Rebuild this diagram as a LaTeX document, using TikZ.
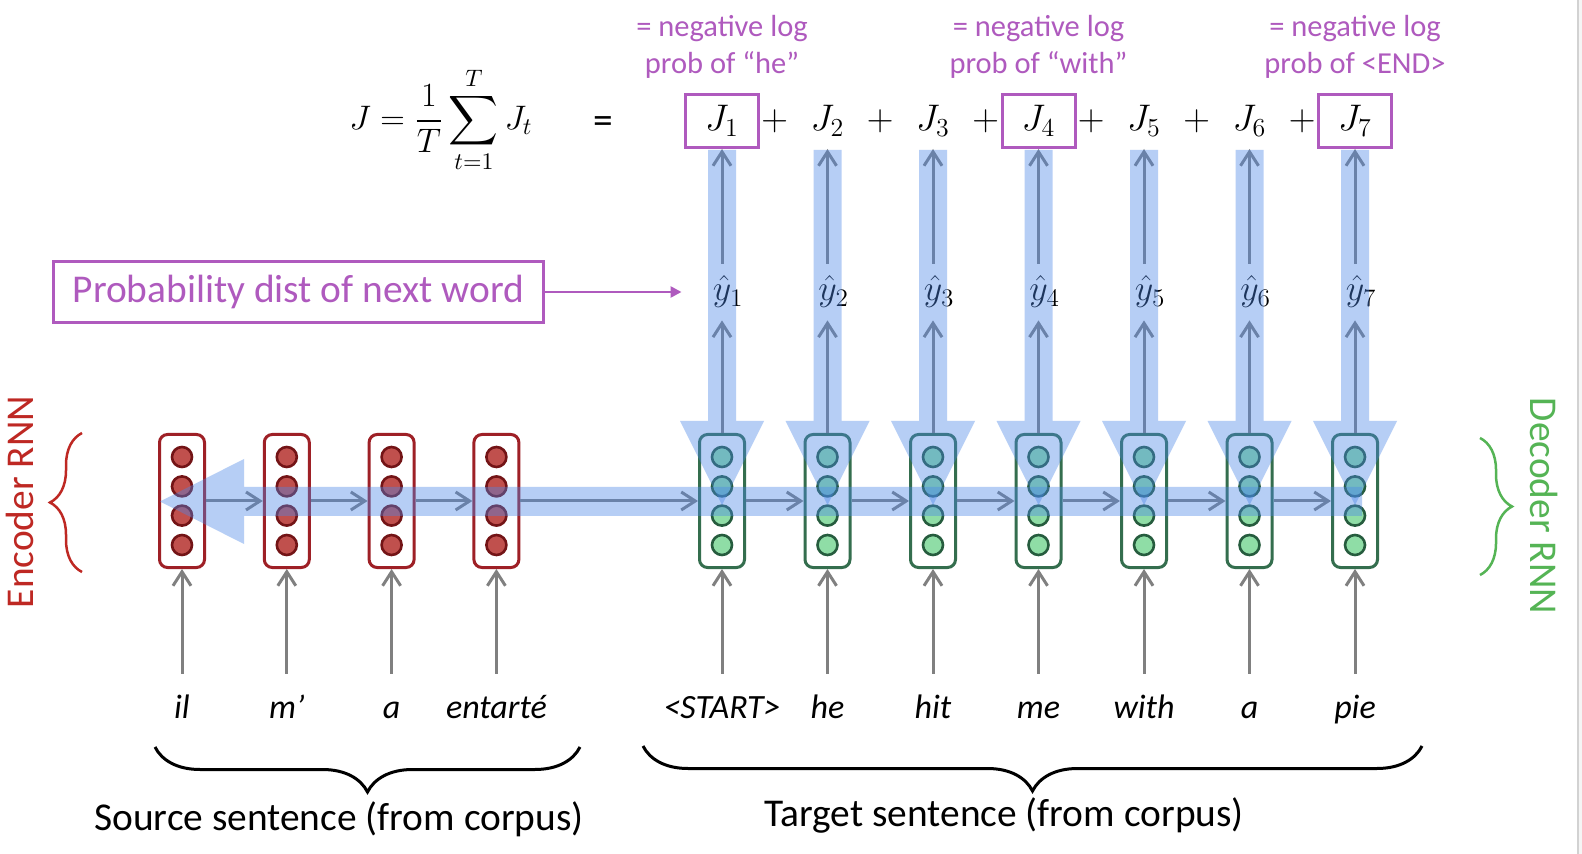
\RequirePackage{fix-cm}
\documentclass[tikz,border=0pt]{standalone}
\usepackage{amsmath}
\usepackage{fontspec}
\setmainfont{Carlito}
\usepackage{tikz}
\usetikzlibrary{arrows.meta,decorations.pathreplacing,positioning,calc}
\definecolor{encedge}{RGB}{158,32,38}
\definecolor{encdot}{RGB}{115,20,22}
\definecolor{encfill}{RGB}{192,80,77}
\definecolor{decedge}{RGB}{52,110,78}
\definecolor{decdot}{RGB}{38,92,62}
\definecolor{decfill}{RGB}{143,221,166}
\definecolor{flowblue}{RGB}{74,134,232}
\definecolor{lossviolet}{RGB}{175,90,190}
\definecolor{rnnred}{RGB}{190,40,35}
\definecolor{rnngreen}{RGB}{85,180,85}
\definecolor{wire}{RGB}{128,128,128}

\begin{document}
\begin{tikzpicture}
		[x=0.5pt, y=-0.5pt, inner sep=0pt,
		encoder/.style	= {draw=encedge, line width=1.5pt, rounded corners=4pt, minimum width=22.5pt, minimum height=66.5pt,
			path picture={\foreach \dy in {22,7.3,-7.3,-22}
				\draw[encdot, fill=encfill, line width=1.3pt] ([yshift=\dy pt]path picture bounding box.center) circle (5pt);}},
		decoder/.style	= {draw=decedge, line width=1.5pt, rounded corners=4pt, minimum width=22.5pt, minimum height=66.5pt,
			path picture={\foreach \dy in {22,7.3,-7.3,-22}
				\draw[decdot, fill=decfill, line width=1.3pt] ([yshift=\dy pt]path picture bounding box.center) circle (5pt);}},
		flow/.style		= {draw=wire, line width=1.5pt, -{Straight Barb[length=7pt,width=9pt]}},
		overlay/.style	= {fill=flowblue, fill opacity=0.4},
		pointer/.style	= {draw=lossviolet, line width=1.25pt, -{Triangle[length=5.5pt,width=5.5pt]}},
		caption/.style	= {font=\fontsize{19.7}{24}\selectfont},
		pbox/.style		= {caption, draw=lossviolet, text=lossviolet, line width=1.5pt, minimum width=245pt, minimum height=30.5pt},
		jbox/.style		= {minimum width=36.5pt, minimum height=26.5pt, line width=1.5pt, font=\fontsize{18.5}{22}\selectfont},
		marked/.style	= {jbox, draw=lossviolet},
		yhat/.style		= {inner sep=6pt, font=\fontsize{18}{22}\selectfont},
		note/.style		= {text=lossviolet, align=center, font=\fontsize{15.25}{18.5}\selectfont},
		word/.style		= {font=\fontsize{17}{20}\selectfont\itshape, text height=22pt, text depth=6pt},
		curly/.style	= {decorate, decoration={brace, amplitude=#1}}]
		
		\useasboundingbox (0,0) rectangle (1582,854);
		\fill[white] (0,0) rectangle (1582,854);
		\fill[gray!8] (1578,0) rectangle (1582,854);
		\draw[gray!35, line width=0.6pt] (1578,0) -- (1578,854);
		
		% encoder and decoder cells
		\node [encoder] at (182,501)				(e1)	{};
		\node [encoder] [right = 28.4pt of e1]		(e2)	{};
		\node [encoder] [right = 28.4pt of e2]		(e3)	{};
		\node [encoder] [right = 28.4pt of e3]		(e4)	{};
		\node [decoder] at (722,501)				(d1)	{};
		\node [decoder] [right = 28.75pt of d1]	(d2)	{};
		\node [decoder] [right = 28.75pt of d2]	(d3)	{};
		\node [decoder] [right = 28.75pt of d3]	(d4)	{};
		\node [decoder] [right = 28.75pt of d4]	(d5)	{};
		\node [decoder] [right = 28.75pt of d5]	(d6)	{};
		\node [decoder] [right = 28.75pt of d6]	(d7)	{};
		
		% input words
		\node [word] at (e1 |- 0,702)	(s1)	{il};
		\node [word] at (e2 |- 0,702)	(s2)	{m’};
		\node [word] at (e3 |- 0,702)	(s3)	{a};
		\node [word] at (e4 |- 0,702)	(s4)	{entarté};
		\node [word] at (d1 |- 0,702)	(t1)	{<START>};
		\node [word] at (d2 |- 0,702)	(t2)	{he};
		\node [word] at (d3 |- 0,702)	(t3)	{hit};
		\node [word] at (d4 |- 0,702)	(t4)	{me};
		\node [word] at (d5 |- 0,702)	(t5)	{with};
		\node [word] at (d6 |- 0,702)	(t6)	{a};
		\node [word] at (d7 |- 0,702)	(t7)	{pie};
		
		% outputs
		\node [pbox] at (298.5,292)		(pdist)	{Probability dist of next word};
		\node [yhat] at (d1 |- pdist)	(y1)	{$\hat{y}_{\rlap{$\scriptstyle 1$}}$};
		\node [yhat] at (d2 |- pdist)	(y2)	{$\hat{y}_{\rlap{$\scriptstyle 2$}}$};
		\node [yhat] at (d3 |- pdist)	(y3)	{$\hat{y}_{\rlap{$\scriptstyle 3$}}$};
		\node [yhat] at (d4 |- pdist)	(y4)	{$\hat{y}_{\rlap{$\scriptstyle 4$}}$};
		\node [yhat] at (d5 |- pdist)	(y5)	{$\hat{y}_{\rlap{$\scriptstyle 5$}}$};
		\node [yhat] at (d6 |- pdist)	(y6)	{$\hat{y}_{\rlap{$\scriptstyle 6$}}$};
		\node [yhat] at (d7 |- pdist)	(y7)	{$\hat{y}_{\rlap{$\scriptstyle 7$}}$};
		
		% loss terms
		\node [font=\fontsize{17}{20}\selectfont] at (441,120)	(loss)	{$\displaystyle J = \frac{1}{T}\sum_{t=1}^{T} J_t$};
		\node [caption] at (603,125)	(eq)	{=};
		\node [marked]	at (d1 |- 0,121)	(J1)	{$J_1$};
		\node [jbox]	at (d2 |- 0,121)	(J2)	{$J_2$};
		\node [jbox]	at (d3 |- 0,121)	(J3)	{$J_3$};
		\node [marked]	at (d4 |- 0,121)	(J4)	{$J_4$};
		\node [jbox]	at (d5 |- 0,121)	(J5)	{$J_5$};
		\node [jbox]	at (d6 |- 0,121)	(J6)	{$J_6$};
		\node [marked]	at (d7 |- 0,121)	(J7)	{$J_7$};
		\foreach \a/\b in {1/2,2/3,3/4,4/5,5/6,6/7}
			\node [jbox, minimum width=0pt] at ($(J\a)!0.5!(J\b)$) (plus\a) {$+$};
		
		\node [note] at (J1 |- 0,47)	(n1)	{= negative log\\prob of ``he''};
		\node [note] at (J4 |- 0,47)	(n4)	{= negative log\\prob of ``with''};
		\node [note] at (J7 |- 0,47)	(n7)	{= negative log\\prob of <END>};
		
		% connectors
		\foreach \a/\b in {e1/e2,e2/e3,e3/e4,e4/d1,d1/d2,d2/d3,d3/d4,d4/d5,d5/d6,d6/d7}
			\draw [flow] (\a) -- (\b);
		\foreach \k in {1,...,4}
			\draw [flow] (s\k) -- (e\k);
		\foreach \k in {1,...,7} {
			\draw [flow] (t\k) -- (d\k);
			\draw [flow] (d\k) -- (y\k);
			\draw [flow] (y\k) -- (J\k);
		}
		\draw [pointer, shorten >=9.5pt] (pdist) -- (y1);
		
		% blue gradient flow
		\foreach \k in {1,...,7}
			\fill [overlay] (d\k |- 0,150) ++(-14,0) -- ++(28,0) -- ++(0,271) -- ++(28,0) -- ++(-42,84) -- ++(-42,-84) -- ++(28,0) -- cycle;
		\fill [overlay] (1362,487) -- (244,487) -- (244,459) -- (160,501.5) -- (244,544) -- (244,516) -- (1362,516) -- cycle;
		
		% braces and labels
		\draw [curly=16pt, rnnred, line width=1.25pt] (82,572) -- (82,433);
		\draw [curly=16pt, rnngreen, line width=1.25pt] (1480,438) -- (1480,575);
		\node [caption, text=rnnred, rotate=90]		at (19.5,502)	(encname)	{Encoder RNN};
		\node [caption, text=rnngreen, rotate=-90]	at (1544,506)	(decname)	{Decoder RNN};
		
		\draw [curly=22.5pt, line width=1.5pt] (580,747) -- (155,747);
		\draw [curly=22.5pt, line width=1.5pt] (1422,746) -- (643,746);
		\node [caption] at (339,819)	(source)	{Source sentence (from corpus)};
		\node [caption] at (1004,815)	(target)	{Target sentence (from corpus)};
		\end{tikzpicture}
\end{document}
